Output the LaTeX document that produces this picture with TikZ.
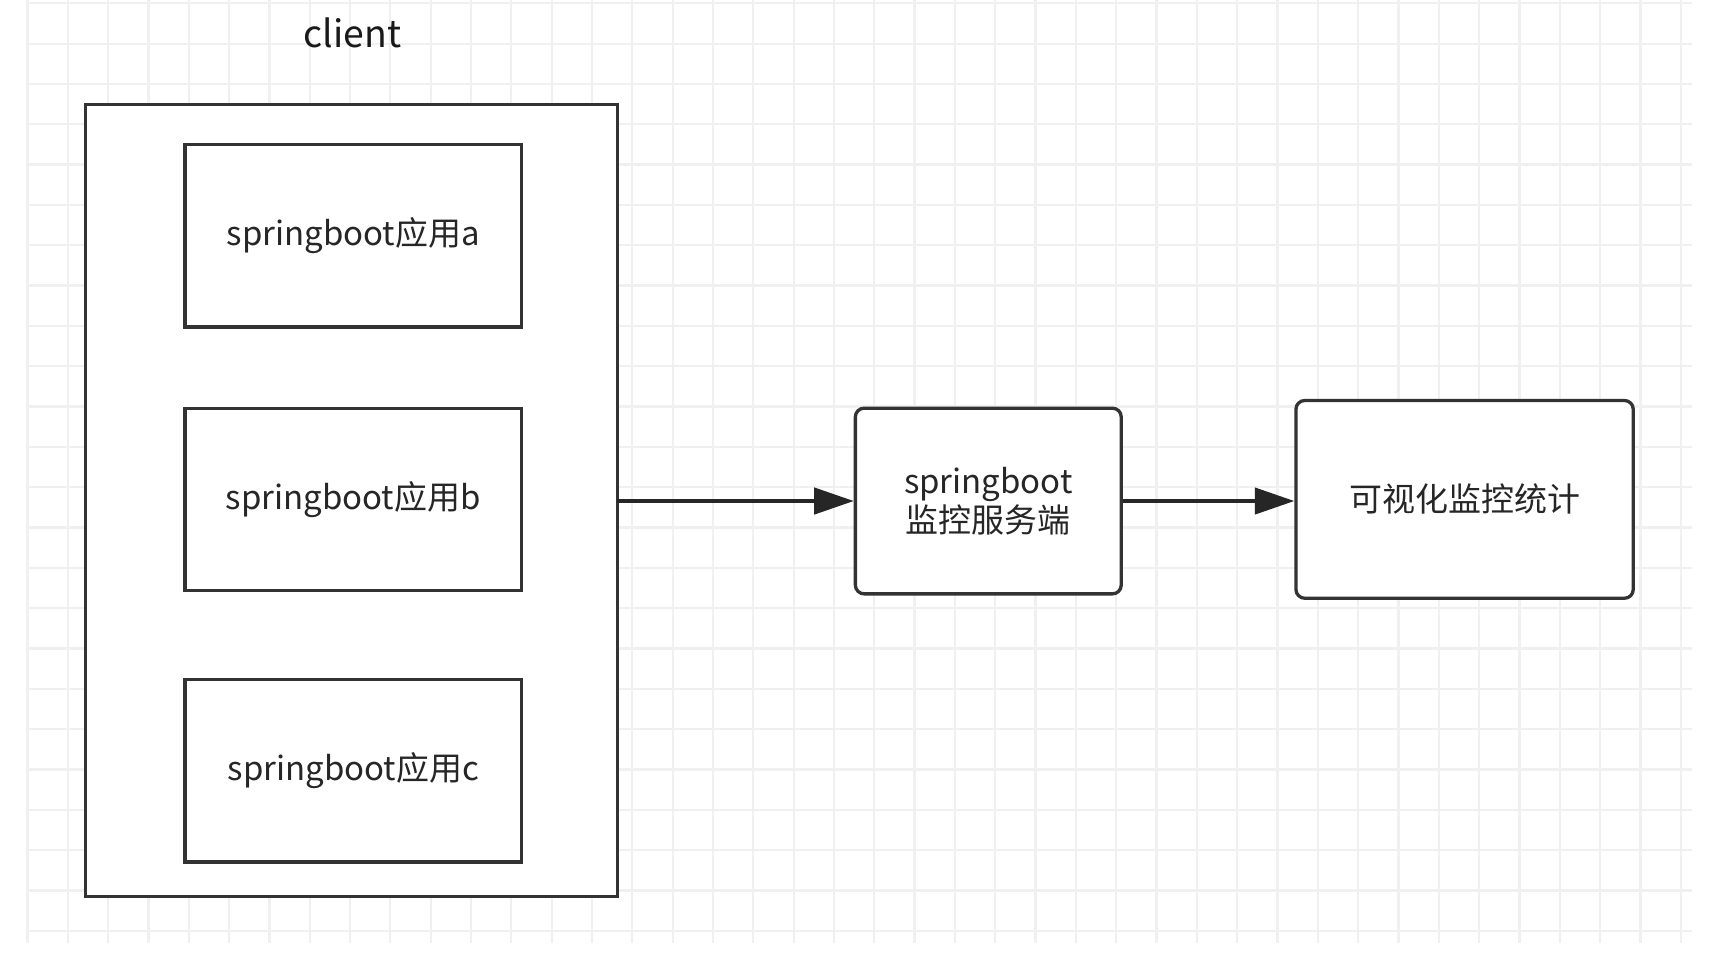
\documentclass[tikz,border=0pt]{standalone}
\usepackage{fontspec}
\setmainfont{Noto Sans CJK SC}
\usetikzlibrary{arrows.meta}
\begin{document}
\begin{tikzpicture}[x=1pt,y=-1pt,
  box/.style={draw=black!80,line width=3pt,font=\fontsize{30}{36}\selectfont,text=black!85,inner sep=0pt},
  rbox/.style={box,rounded corners=8pt},
  arr/.style={line width=3pt,draw=black!85,-{Triangle[length=36pt,width=24pt]}}]
\useasboundingbox (0,0) rectangle (1560,888);
\fill[white] (0,0) rectangle (1560,888);
\foreach \i in {0,...,41} {\draw[black!6,line width=2pt] (25+36.7*\i,0) -- (25+36.7*\i,858);}
\foreach \j in {0,...,23} {\draw[black!6,line width=2pt] (25,3+36.7*\j) -- (1540,3+36.7*\j);}
\node[font=\fontsize{34}{40}\selectfont,text=black!90] (t) at (321,30) {client};
\draw[draw=black!80,line width=3pt,fill=white] (78,95) rectangle (562,816);
\coordinate (cr) at (562,456);
\node[box,fill=white,minimum width=306pt,minimum height=166pt] (a) at (321.5,214.5) {springboot应用a};
\node[box,fill=white,minimum width=306pt,minimum height=166pt] (b) at (321.5,454.5) {springboot应用b};
\node[box,fill=white,minimum width=306pt,minimum height=166pt] (c) at (321.5,701.5) {springboot应用c};
\node[rbox,fill=white,minimum width=242pt,minimum height=169pt,align=center] (s) at (899.5,456) {springboot\\监控服务端};
\node[rbox,fill=white,minimum width=307pt,minimum height=180pt] (v) at (1333,454.5) {可视化监控统计};
\draw[arr] (cr) -- (s.west);
\draw[arr] (s.east) -- (s.east -| v.west);
\end{tikzpicture}
\end{document}
